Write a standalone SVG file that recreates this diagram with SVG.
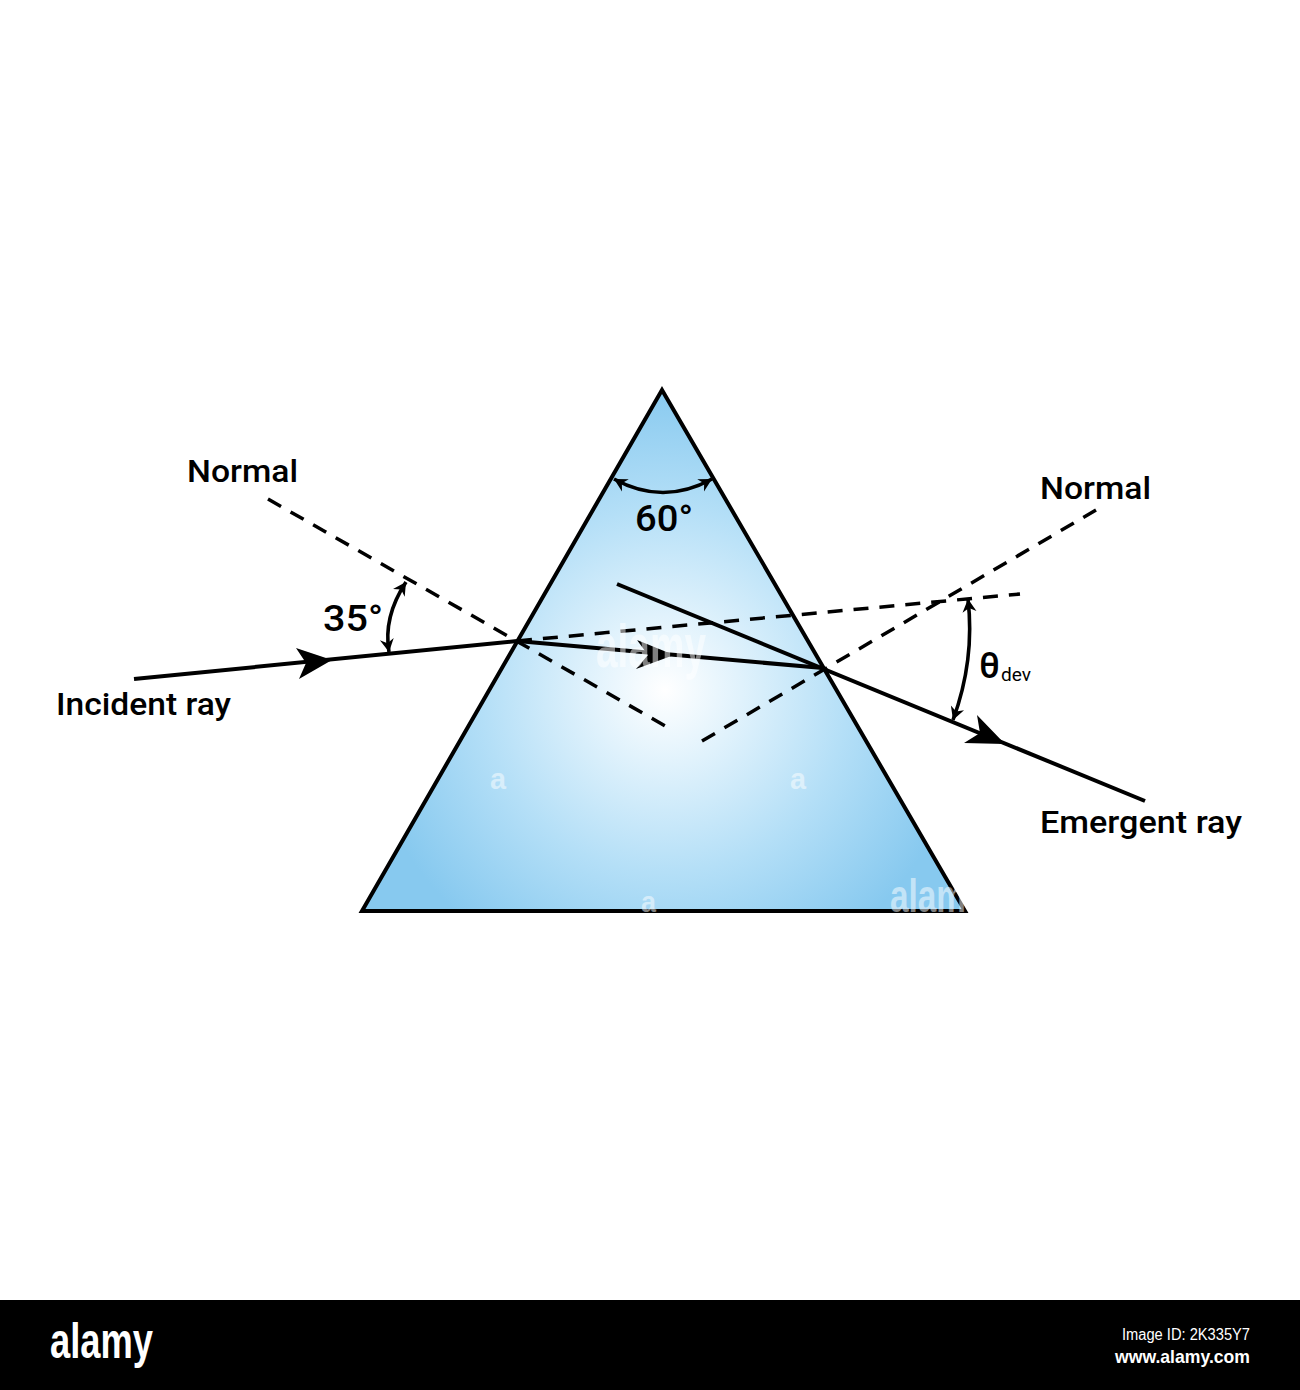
<svg xmlns="http://www.w3.org/2000/svg" width="1300" height="1390" viewBox="0 0 1300 1390">
<style>
.lbl{font-family:"Roboto","Liberation Sans",sans-serif;font-size:31px;font-weight:500;fill:#000}
.big{font-size:37px}
.ray{stroke:#000;stroke-width:4;fill:none}
.dash{stroke:#000;stroke-width:3.5;fill:none;stroke-dasharray:15 11}
.arc{stroke:#000;stroke-width:3.6;fill:none;marker-start:url(#open);marker-end:url(#open)}
.head{fill:#000}
.wm{font-family:"Liberation Sans",sans-serif;font-weight:700;fill:#fff;fill-opacity:.5}
.foot{font-family:"Liberation Sans",sans-serif;fill:#fff}
</style>
<defs>
<radialGradient id="glass" gradientUnits="userSpaceOnUse" cx="665" cy="690" r="305">
<stop offset="0" stop-color="#ffffff"/><stop offset=".25" stop-color="#e0f2fc"/><stop offset=".6" stop-color="#b4dff7"/><stop offset="1" stop-color="#87c9ef"/>
</radialGradient>
<marker id="open" markerWidth="18" markerHeight="18" refX="14" refY="8" orient="auto-start-reverse" markerUnits="userSpaceOnUse" viewBox="0 0 18 16">
<path d="M1 1 L14 8 L1 15 L5 8 Z" fill="#000"/>
</marker>
</defs>
<rect width="1300" height="1390" fill="#fff"/>
<g id="prism"><polygon points="662,390 965,911 362,911" fill="url(#glass)" stroke="#000" stroke-width="4"/></g>
<g id="connectors">
<path class="dash" d="M268 499 L667 727"/>
<path class="dash" d="M702 741 L1096 510"/>
<path class="dash" d="M517 641 L1020 594"/>
<path class="ray" d="M134 679 L517 641"/>
<path class="ray" d="M517 641 L823 668"/>
<path class="ray" d="M617 584 L1145 801"/>
<path class="head" d="M332 660 L296 648 L306 663 L299 679 Z"/>
<path class="head" d="M674 655 L637 640 L648 655 L636 669 Z"/>
<path class="head" d="M1005 744 L977 715 L980 733 L964 743 Z"/>
<path class="arc" d="M389 652 Q383 617 406 582"/>
<path class="arc" d="M614 479 Q663 506 712 479"/>
<path class="arc" d="M953 720 Q975 660 968 599"/>
</g>
<g id="watermark">
<text class="wm" x="596" y="667" font-size="62" textLength="110" lengthAdjust="spacingAndGlyphs">alamy</text>
<text class="wm" x="490" y="789" font-size="30" textLength="16" lengthAdjust="spacingAndGlyphs">a</text>
<text class="wm" x="790" y="789" font-size="30" textLength="16" lengthAdjust="spacingAndGlyphs">a</text>
<text class="wm" x="641" y="912" font-size="30" textLength="15" lengthAdjust="spacingAndGlyphs">a</text>
<text class="wm" x="890" y="912" font-size="46" textLength="76" lengthAdjust="spacingAndGlyphs">alam</text>
</g>
<g id="label-normal-left"><text class="lbl" x="187" y="482" textLength="111" lengthAdjust="spacingAndGlyphs">Normal</text></g>
<g id="label-normal-right"><text class="lbl" x="1040" y="499" textLength="111" lengthAdjust="spacingAndGlyphs">Normal</text></g>
<g id="label-incident"><text class="lbl" x="56" y="715" textLength="175" lengthAdjust="spacingAndGlyphs">Incident ray</text></g>
<g id="label-emergent"><text class="lbl" x="1040" y="833" textLength="202" lengthAdjust="spacingAndGlyphs">Emergent ray</text></g>
<g id="label-35"><text class="lbl big" x="323" y="631" textLength="60" lengthAdjust="spacingAndGlyphs">35°</text></g>
<g id="label-60"><text class="lbl big" x="635" y="531" textLength="58" lengthAdjust="spacingAndGlyphs">60°</text></g>
<g id="label-theta"><text class="lbl" x="979" y="678" style="font-size:36px" textLength="21" lengthAdjust="spacingAndGlyphs">θ</text><text class="lbl" x="1001" y="681" style="font-size:18px;font-weight:400" textLength="30" lengthAdjust="spacingAndGlyphs">dev</text></g>
<g id="footer">
<rect x="0" y="1300" width="1300" height="90" fill="#000"/>
<text class="foot" x="50" y="1358" font-weight="700" font-size="50" textLength="103" lengthAdjust="spacingAndGlyphs">alamy</text>
<text class="foot" x="1122" y="1340" font-size="16" textLength="128" lengthAdjust="spacingAndGlyphs">Image ID: 2K335Y7</text>
<text class="foot" x="1115" y="1363" font-weight="700" font-size="19" textLength="135" lengthAdjust="spacingAndGlyphs">www.alamy.com</text>
</g>
</svg>
